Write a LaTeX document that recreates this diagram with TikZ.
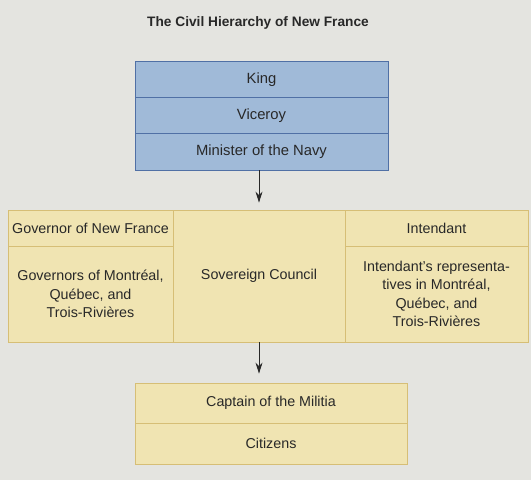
\documentclass[tikz,border=0pt]{standalone}
\usepackage{fontspec}
\setmainfont{Liberation Sans}
\usetikzlibrary{arrows.meta}
\definecolor{paper}{RGB}{228,228,224}
\definecolor{navyfill}{RGB}{160,186,216}
\definecolor{navyline}{RGB}{80,112,165}
\definecolor{tanfill}{RGB}{240,228,178}
\definecolor{tanline}{RGB}{214,190,118}
\definecolor{ink}{RGB}{40,40,40}
\begin{document}
\begin{tikzpicture}[x=1pt,y=-1pt]
  \tikzset{blue row/.style={draw=navyline,fill=navyfill,line width=0.8pt,text=ink,minimum width=253pt,minimum height=36.3pt,inner sep=0pt,font=\fontsize{14.8}{17}\selectfont},
    tan cell/.style 2 args={draw=tanline,fill=tanfill,line width=0.8pt,text=ink,minimum width=#1,minimum height=#2,inner sep=0pt,align=center,font=\fontsize{14.3}{18.5}\selectfont},
    down arrow/.style={-{Stealth[length=11pt,width=7pt]},line width=0.9pt,ink}}

  \fill[paper] (0,0) rectangle (531,480);

  \node[font=\bfseries\fontsize{13.7}{16}\selectfont,text=ink] (title) at (258,23) {The Civil Hierarchy of New France};

  % crown and navy
  \node [blue row] (king) at (261.5,79.2) {King};
  \node [blue row] (viceroy) at (261.5,115.5) {Viceroy};
  \node [blue row] (minister) at (261.5,151.8) {Minister of the Navy};

  % colony
  \node [tan cell={165pt}{36pt}] (governor) at (90.5,228) {Governor of New France};
  \node [tan cell={165pt}{96pt}] (governors) at (90.5,294) {Governors of Montréal,\\Québec, and\\Trois-Rivières};
  \node [tan cell={172pt}{132pt}] (council) at (259,276) {Sovereign Council};
  \node [tan cell={183pt}{36pt}] (intendant) at (436.5,228) {Intendant};
  \node [tan cell={183pt}{96pt}] (reps) at (436.5,294) {Intendant’s representa-\\tives in Montréal,\\Québec, and\\Trois-Rivières};

  % parishes
  \node [tan cell={272pt}{40pt}] (captain) at (271,403) {Captain of the Militia};
  \node [tan cell={272pt}{41pt}] (citizens) at (271,443.5) {Citizens};

  \draw [down arrow] (minister.south -| council.north) -- ([yshift=7pt]council.north);
  \draw [down arrow] (council.south) -- ([yshift=9pt]captain.north -| council.south);
\end{tikzpicture}
\end{document}
